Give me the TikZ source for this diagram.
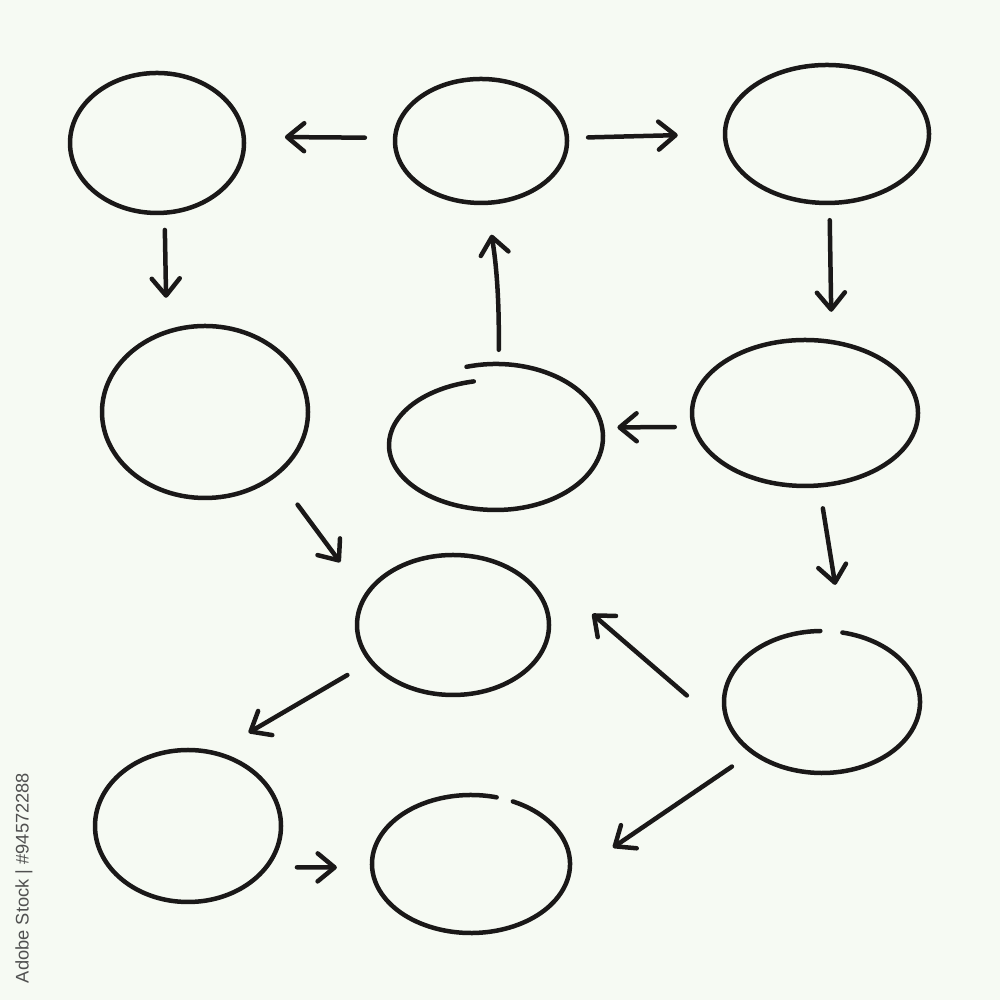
\documentclass[tikz,border=0pt]{standalone}
\usepackage{fontspec}
\newfontfamily\stockfont{Liberation Sans}
\usetikzlibrary{arrows.meta}
\usetikzlibrary{shapes.geometric}
\usetikzlibrary{calc}
\definecolor{paper}{RGB}{246,250,243}
\definecolor{ink}{RGB}{26,24,24}
\definecolor{stockgray}{RGB}{80,80,80}
\newcommand*\openellipse[5]{%
    \draw ($(#1)+(#4:#2 and #3)$) arc[start angle=#4,delta angle=#5,x radius=#2,y radius=#3];
}

\begin{document}
\begin{tikzpicture}[line cap=round,line join=round,line width=0.45mm,color=ink,
    blob/.style 2 args={ellipse,draw,inner sep=0pt,minimum width=#1,minimum height=#2},
    arr/.style={-{Straight Barb[length=1.7mm,width=2.8mm,round]}}]
\fill[paper] (0,0) rectangle (10,10);
\useasboundingbox (0,0) rectangle (10,10);

% top row
\node[blob={1.74cm}{1.40cm}] (e1) at (1.57,8.57) {};
\node[blob={1.72cm}{1.24cm}] (e2) at (4.81,8.59) {};
\node[blob={2.04cm}{1.38cm}] (e3) at (8.27,8.66) {};
% second row
\node[blob={2.06cm}{1.72cm}] (e4) at (2.05,5.88) {};
\node[blob={2.14cm}{1.46cm},draw=none] (e5) at (4.96,5.63) {};
\node[blob={2.26cm}{1.46cm}] (e6) at (8.05,5.87) {};
% third row
\node[blob={1.92cm}{1.40cm}] (e7) at (4.53,3.75) {};
\node[blob={1.96cm}{1.42cm},draw=none] (e8) at (8.22,2.98) {};
% bottom row
\node[blob={1.86cm}{1.52cm}] (e9) at (1.88,1.74) {};
\node[blob={1.98cm}{1.38cm},draw=none] (e10) at (4.71,1.36) {};

% the open ones
\draw ($(e5)+(106:1.07cm and 0.73cm)$) arc[start angle=106,end angle=-90,x radius=1.07cm,y radius=0.73cm]
    arc[start angle=270,end angle=102,x radius=1.07cm,y radius=0.65cm];
\openellipse{e8}{0.98cm}{0.71cm}{78}{-347}
\openellipse{e10}{0.99cm}{0.69cm}{65}{-350}

% this one points past e7
\coordinate (t9) at ($(e7.east)+(0.41,0.11)$);

\draw[arr,shorten <=2.8mm,shorten >=3.9mm] (e2.178) -- (e1.4);
\draw[arr,shorten <=1.9mm,shorten >=4.5mm] (e2.2) -- (e3.180);
\draw[arr,shorten <=1.5mm,shorten >=3.2mm] (e1.-84) -- (e4.115);
\draw[arr,shorten <=1.5mm,shorten >=2.8mm] (e3.-88) -- (e6.70);
\draw[arr,shorten <=1.2mm,shorten >=3mm] (e5.88) to[bend right=5] (e2.-85);
\draw[arr,shorten <=1.7mm,shorten >=1.3mm] (e6.187) -- (e5.5);
\draw[arr,shorten <=3.5mm,shorten >=4mm] (e4.-42) -- (e7.161);
\draw[arr,shorten <=2.1mm,shorten >=4.6mm] (e6.-79) -- (e8.74);
\draw[arr,shorten <=6mm] (e8.200) -- (t9);
\draw[arr,shorten <=2.5mm,shorten >=3.7mm] (e7.204) -- (e9.69);
\draw[arr,shorten <=2.8mm,shorten >=3.3mm] (e9.-27) -- (e10.182);
\draw[arr,shorten <=2.3mm,shorten >=5.1mm] (e8.216) -- (e10.-7);

\node[rotate=90,text=stockgray,inner sep=0pt,font=\stockfont\fontsize{5.2}{6}\selectfont] (stock) at (0.24,1.22) {Adobe Stock | \#94572288};
\end{tikzpicture}
\end{document}
